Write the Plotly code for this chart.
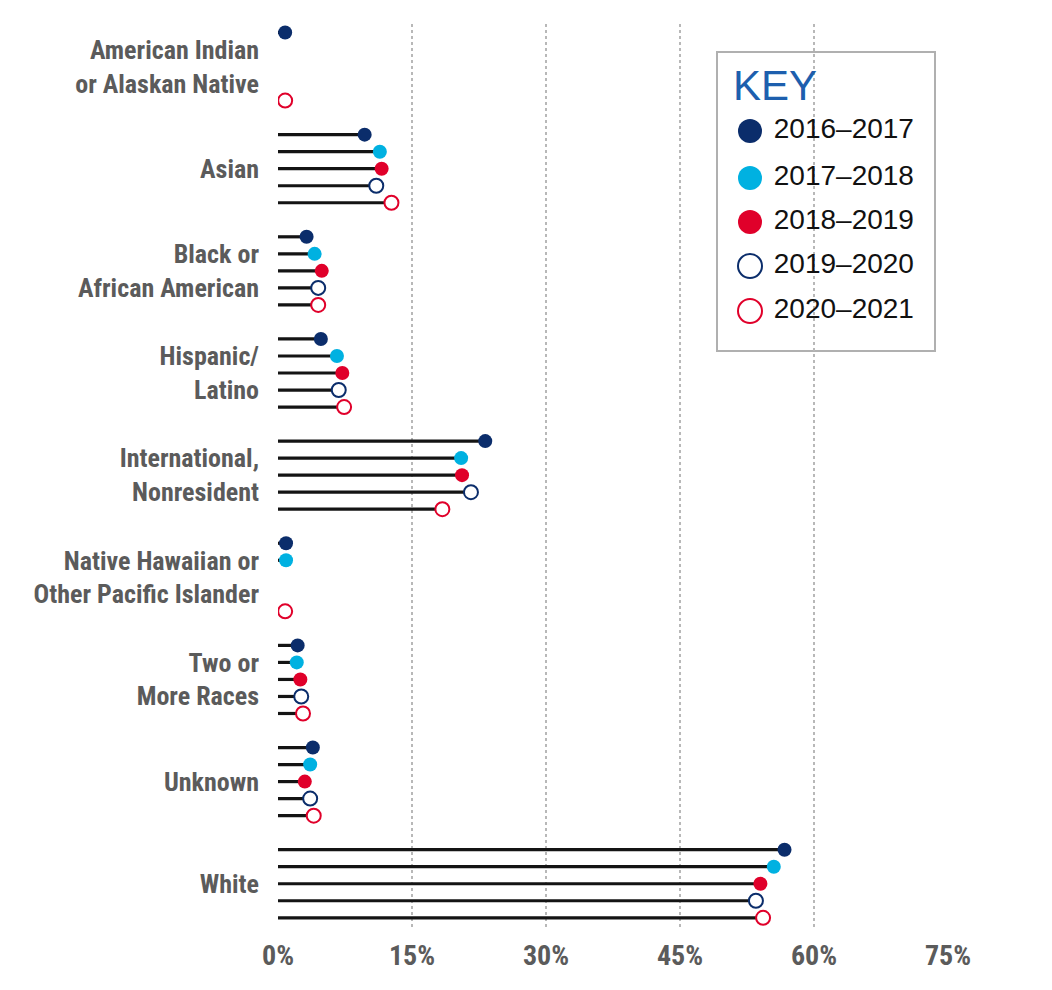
import plotly.graph_objects as go

categories = [
    "American Indian<br>or Alaskan Native",
    "Asian",
    "Black or<br>African American",
    "Hispanic/<br>Latino",
    "International,<br>Nonresident",
    "Native Hawaiian or<br>Other Pacific Islander",
    "Two or<br>More Races",
    "Unknown",
    "White",
]
years = ["2016\u20132017", "2017\u20132018", "2018\u20132019", "2019\u20132020", "2020\u20132021"]

# percent values per year, in category order (0 = no marker shown)
v_2016_17 = [0.8, 9.7, 3.2, 4.8, 23.2, 0.9, 2.2, 3.9, 56.7]
v_2017_18 = [0.0, 11.4, 4.1, 6.6, 20.5, 0.9, 2.1, 3.6, 55.5]
v_2018_19 = [0.0, 11.6, 4.9, 7.2, 20.6, 0.0, 2.5, 3.0, 54.0]
v_2019_20 = [0.0, 11.0, 4.5, 6.8, 21.6, 0.0, 2.6, 3.6, 53.5]
v_2020_21 = [0.8, 12.7, 4.5, 7.4, 18.4, 0.8, 2.8, 4.0, 54.3]
series = [v_2016_17, v_2017_18, v_2018_19, v_2019_20, v_2020_21]

x_ticks = [0, 15, 30, 45, 60, 75]

NAVY = "#0b2d6b"
CYAN = "#00b1e1"
RED = "#e0002a"
styles = [
    dict(color=NAVY, line=dict(color=NAVY, width=0), symbol="circle"),
    dict(color=CYAN, line=dict(color=CYAN, width=0), symbol="circle"),
    dict(color=RED, line=dict(color=RED, width=0), symbol="circle"),
    dict(color="white", line=dict(color=NAVY, width=2), symbol="circle"),
    dict(color="white", line=dict(color=RED, width=2), symbol="circle"),
]

LABEL_FONT = "Roboto Condensed, DejaVu Sans Condensed, Liberation Sans Narrow, Roboto, sans-serif"
GREY = "#5b5b5b"

fig = go.Figure()

# stems
lx, ly = [], []
for s, vals in enumerate(series):
    for g, v in enumerate(vals):
        r = g * 6 + s
        lx += [0, v, None]
        ly += [r, r, None]
fig.add_trace(go.Scatter(x=lx, y=ly, mode="lines", line=dict(color="#141414", width=3.2),
                         hoverinfo="skip", showlegend=False))

# markers
for s, vals in enumerate(series):
    xs, ys = [], []
    for g, v in enumerate(vals):
        if v > 0:
            xs.append(v)
            ys.append(g * 6 + s)
    st = styles[s]
    fig.add_trace(go.Scatter(x=xs, y=ys, mode="markers", name=years[s],
                             marker=dict(size=14, color=st["color"], line=st["line"]),
                             showlegend=False))

# custom key on overlay axes (pixel-like coordinates)
key_y = [131, 178, 222, 266, 311]
for s in range(5):
    st = styles[s]
    fig.add_trace(go.Scatter(x=[750], y=[key_y[s]], xaxis="x2", yaxis="y2", mode="markers+text",
                             marker=dict(size=24, color=st["color"],
                                         line=dict(color=st["line"]["color"], width=st["line"]["width"])),
                             text=[" " + years[s]], textposition="middle right",
                             textfont=dict(family="Liberation Sans, Arial, sans-serif", size=28, color="#111111"),
                             hoverinfo="skip", showlegend=False, cliponaxis=False))

fig.update_layout(
    width=1052, height=990,
    margin=dict(l=278, r=104, t=24, b=62),
    paper_bgcolor="white", plot_bgcolor="white",
    showlegend=False,
    xaxis=dict(range=[0, 75], tickvals=x_ticks, ticktext=[f"{t}%" for t in x_ticks],
               showgrid=True, gridcolor="#b8b8b8", griddash="dot", gridwidth=1.5,
               zeroline=True, zerolinecolor="rgba(0,0,0,0)", showline=False,
               ticks="", ticklabelstandoff=8, automargin=False,
               tickfont=dict(family=LABEL_FONT, size=28, color=GREY, weight="bold")),
    yaxis=dict(range=[52.6, -0.5], tickvals=[g * 6 + 2 for g in range(len(categories))],
               ticktext=categories, showgrid=False, zeroline=False, showline=False,
               ticks="", ticklabelstandoff=18, automargin=False,
               tickfont=dict(family=LABEL_FONT, size=26, color=GREY, weight="bold")),
    xaxis2=dict(range=[278, 948], overlaying="x", visible=False, fixedrange=True),
    yaxis2=dict(range=[928, 24], overlaying="y", visible=False, fixedrange=True),
    shapes=[dict(type="rect", xref="x2", yref="y2", x0=717, x1=935, y0=52, y1=351,
                 line=dict(color="#b0b0b0", width=2), fillcolor="white", layer="below")],
    annotations=[dict(x=731, y=85, xref="x2", yref="y2", text="KEY", showarrow=False,
                      xanchor="left", yanchor="middle",
                      font=dict(family="Liberation Sans, Arial, sans-serif", size=42, color="#1d5fae"))],
)

fig.write_html("out.html")
